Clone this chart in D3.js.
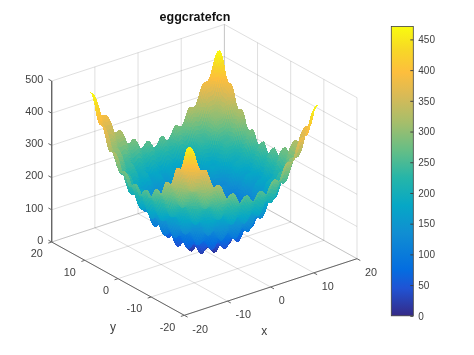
<!DOCTYPE html>
<html>
<head>
<meta charset="utf-8">
<script src="https://cdn.jsdelivr.net/npm/d3@7"></script>
<style>
  html, body { margin: 0; padding: 0; background: #fff; }
  svg { display: block; filter: blur(0.35px); }
  text { font-family: "Liberation Sans", Arial, sans-serif; }
</style>
</head>
<body>
<svg id="chart" width="474" height="355"></svg>
<script>
// surface sample positions, same for both axes
let gridPos = d3.range(-15, 15.25, 0.25);

// height contributed by each axis along the surface, z = xProfile[i] + yProfile[j]
let xProfile = [235.6,234.3,232.4,227.7,220.5,210.5,198.3,185.5,173.4,163.4,156.4,152.5,151.2,151.3,151.1,150,146,139.1,129.6,118.6,107.4,97.6,90.4,86.3,85.2,86.3,88.2,89.3,88.5,84.8,78.4,69.5,59.8,50.6,43.4,39.1,38,39.5,42.6,46,48,47.5,44.1,38.1,30.3,22.2,15.3,10.9,9.5,11.2,15.2,20.2,24.7,27.3,27.1,24.1,18.7,12.2,6,1.6,0,
    1.6,6,12.2,18.7,24.1,27.1,27.3,24.7,20.2,15.2,11.2,9.5,10.9,15.3,22.2,30.3,38.1,44.1,47.5,48,46,42.6,39.5,38,39.1,43.4,50.6,59.8,69.5,78.4,84.8,88.5,89.3,88.2,86.3,85.2,86.3,90.4,97.6,107.4,118.6,129.6,139.1,146,150,151.1,151.3,151.2,152.5,156.4,163.4,173.4,185.5,198.3,210.5,220.5,227.7,232.4,234.3,235.6];
let yProfile = [235.6,234.3,232.4,227.7,220.5,210.5,198.3,185.5,173.4,163.4,156.4,152.5,151.2,151.3,151.1,150,146,139.1,129.6,118.6,107.4,97.6,90.4,86.3,85.2,86.3,88.2,89.3,88.5,84.8,78.4,69.5,59.8,50.6,43.4,39.1,38,39.5,42.6,46,48,47.5,44.1,38.1,30.3,22.2,15.3,10.9,9.5,11.2,15.2,20.2,24.7,27.3,27.1,24.1,18.7,12.2,6,1.6,0,
    1.6,6,12.2,18.7,24.1,27.1,27.3,24.7,20.2,15.2,11.2,9.5,10.9,15.3,22.2,30.3,38.1,44.1,47.5,48,46,42.6,39.5,38,39.1,43.4,50.6,59.8,69.5,78.4,84.8,88.5,89.3,88.2,86.3,85.2,86.3,90.4,97.6,107.4,118.6,129.6,139.1,146,150,151.1,151.3,151.2,152.5,156.4,163.4,173.4,185.5,198.3,210.5,220.5,227.7,232.4,234.3,235.6];

let xTicks = [-20,-10,0,10,20];
let yTicks = [-20,-10,0,10,20];
let zTicks = [0,100,200,300,400,500];
let colorbarTicks = [0,50,100,150,200,250,300,350,400,450];
let colorMax = 471;

// parula
let parulaStops = [0,6,10,18,24,30,36,42,48,53,58,63];
let parulaColors = ["#352a87","#2053d4","#046de0","#108ed2","#06a7c6","#25b5a9","#65be86","#a5be6b","#d9ba56","#fdbe3d","#f7d826","#f9fb0e"];

let svg = d3.select("#chart");

// axes are drawn as oblique vectors from the front floor corner (x=-20, y=-20, z=0)
let originX = 184.3, originY = 315.3;
let xToPxX = d3.scaleLinear().domain([-20, 20]).range([0, 172.7]);
let xToPxY = d3.scaleLinear().domain([-20, 20]).range([0, -56.6]);
let yToPxX = d3.scaleLinear().domain([-20, 20]).range([0, -132.6]);
let yToPxY = d3.scaleLinear().domain([-20, 20]).range([0, -73.3]);
let zToPxY = d3.scaleLinear().domain([0, 500]).range([0, -161]);

function project(x, y, z) {
    return [originX + xToPxX(x) + yToPxX(y), originY + xToPxY(x) + yToPxY(y) + zToPxY(z)];
}

let colorScale = d3.scaleLinear()
    .domain(parulaStops.map(d => d / 63 * colorMax))
    .range(parulaColors)
    .clamp(true);

function addLine(group, a, b) {
    group.append("line")
        .attr("x1", a[0]).attr("y1", a[1])
        .attr("x2", b[0]).attr("y2", b[1]);
}

// grid on the floor and the two back walls
let grid = svg.append("g")
    .attr("stroke", "#262626")
    .attr("stroke-opacity", 0.15)
    .attr("stroke-width", 1);

xTicks.forEach(x => {
    addLine(grid, project(x, -20, 0), project(x, 20, 0));
    addLine(grid, project(x, 20, 0), project(x, 20, 500));
});
yTicks.forEach(y => {
    addLine(grid, project(-20, y, 0), project(20, y, 0));
    addLine(grid, project(20, y, 0), project(20, y, 500));
});
zTicks.forEach(z => {
    addLine(grid, project(-20, 20, z), project(20, 20, z));
    addLine(grid, project(20, 20, z), project(20, -20, z));
});

// surface cells, far corner first so nearer ones paint over
let cells = [];
for (let i = gridPos.length - 2; i >= 0; i--) {
    for (let j = gridPos.length - 2; j >= 0; j--) {
        cells.push({i: i, j: j});
    }
}

function zAt(i, j) {
    return xProfile[i] + yProfile[j];
}

function cellPath(d) {
    let corners = [[d.i, d.j], [d.i + 1, d.j], [d.i + 1, d.j + 1], [d.i, d.j + 1]];
    return d3.line()(corners.map(c => project(gridPos[c[0]], gridPos[c[1]], zAt(c[0], c[1])))) + "Z";
}

function cellColor(d) {
    return colorScale((zAt(d.i, d.j) + zAt(d.i + 1, d.j) + zAt(d.i + 1, d.j + 1) + zAt(d.i, d.j + 1)) / 4);
}

// no antialiasing between cells, it lets hidden colours bleed through as stripes
svg.append("g")
    .style("filter", "blur(0.5px)")
    .attr("shape-rendering", "crispEdges")
    .selectAll("path")
    .data(cells)
    .join("path")
    .attr("d", cellPath)
    .attr("fill", cellColor);

// box axes
let axes = svg.append("g")
    .attr("stroke", "#666")
    .attr("stroke-width", 1)
    .attr("fill", "none");

addLine(axes, project(-20, -20, 0), project(20, -20, 0));
addLine(axes, project(-20, -20, 0), project(-20, 20, 0));
addLine(axes.append("g").attr("stroke-width", 1.4), project(-20, 20, 0), project(-20, 20, 500));

xTicks.forEach(x => addLine(axes, project(x, -20, 0), project(x, -21, 0)));
yTicks.forEach(y => addLine(axes, project(-20, y, 0), project(-20.8, y, 0)));
zTicks.forEach(z => addLine(axes, project(-20, 20, z), project(-20, 21, z)));

let labels = svg.append("g")
    .attr("fill", "#404040")
    .attr("font-size", 10.8);

xTicks.forEach(x => {
    let p = project(x, -20, 0);
    labels.append("text")
        .attr("x", p[0] + 8).attr("y", p[1] + 13.5)
        .attr("dy", "0.35em")
        .text(x);
});
yTicks.forEach(y => {
    let p = project(-20, y, 0);
    labels.append("text")
        .attr("x", p[0] - 9).attr("y", p[1] + 11.5)
        .attr("dy", "0.35em")
        .attr("text-anchor", "end")
        .text(y);
});
zTicks.forEach(z => {
    let p = project(-20, 20, z);
    labels.append("text")
        .attr("x", p[0] - 8.5).attr("y", p[1] - 2)
        .attr("dy", "0.35em")
        .attr("text-anchor", "end")
        .text(z);
});

labels.append("text")
    .attr("x", 264.3).attr("y", 331)
    .attr("dy", "0.35em")
    .attr("text-anchor", "middle")
    .attr("font-size", 12)
    .text("x");
labels.append("text")
    .attr("x", 113).attr("y", 327)
    .attr("dy", "0.35em")
    .attr("text-anchor", "middle")
    .attr("font-size", 12)
    .text("y");

svg.append("text")
    .attr("x", 195).attr("y", 21)
    .attr("text-anchor", "middle")
    .attr("font-size", 12.5)
    .attr("font-weight", "bold")
    .attr("fill", "#111")
    .text("eggcratefcn");

// colorbar
let cbLeft = 391.3, cbRight = 413.3;
let cbScale = d3.scaleLinear().domain([0, colorMax]).range([315.8, 26.5]);

let gradient = svg.append("defs").append("linearGradient")
    .attr("id", "parula")
    .attr("x1", 0).attr("y1", 1)
    .attr("x2", 0).attr("y2", 0);
gradient.selectAll("stop")
    .data(parulaStops)
    .join("stop")
    .attr("offset", d => d / 63)
    .attr("stop-color", (d, i) => parulaColors[i]);

svg.append("rect")
    .attr("x", cbLeft).attr("y", 26.5)
    .attr("width", cbRight - cbLeft).attr("height", 315.8 - 26.5)
    .attr("fill", "url(#parula)")
    .attr("stroke", "#404040")
    .attr("stroke-width", 0.8);

let cbAxis = d3.axisRight(cbScale)
    .tickValues(colorbarTicks)
    .tickSize(-3)
    .tickPadding(5);

let cbGroup = svg.append("g")
    .attr("transform", "translate(" + cbRight + ",0)")
    .call(cbAxis);
cbGroup.select(".domain").remove();
cbGroup.selectAll("line").attr("stroke", "#404040");
cbGroup.selectAll("text")
    .attr("fill", "#404040")
    .attr("font-size", 10)
    .attr("font-family", "'Liberation Sans', Arial, sans-serif");
</script>
</body>
</html>
